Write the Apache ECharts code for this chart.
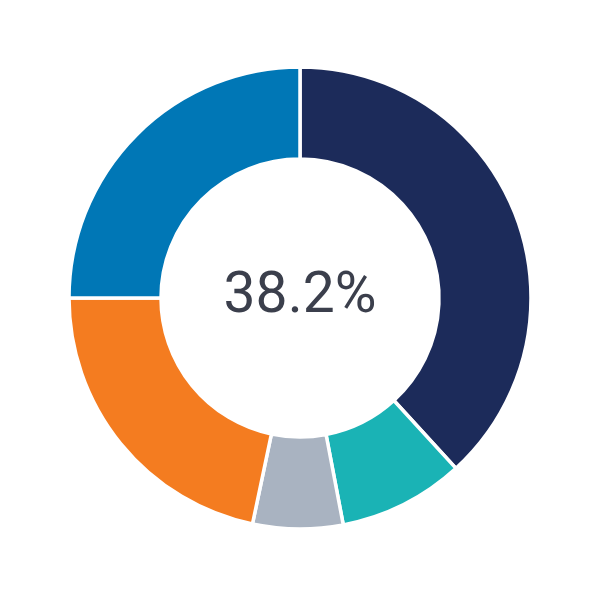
<!DOCTYPE html>
<html>
<head>
    <meta charset="UTF-8">
    <title>Donut</title>
    <script src="https://cdn.jsdelivr.net/npm/echarts/dist/echarts.min.js"></script>
    <style>
        html, body { margin: 0; padding: 0; background: #fff; }
        #chart { width: 600px; height: 600px; }
    </style>
</head>
<body>
    <div id="chart"></div>
    <script type="text/javascript">
        // 数据
        var names = ['A', 'B', 'C', 'D', 'E'];
        var values = [38.2, 8.8, 6.3, 21.7, 25.0];
        var colors = ['#1c2b5a', '#1ab3b5', '#a9b3c1', '#f47c20', '#0077b6'];
        var centerLabel = '38.2%';

        var data = names.map(function (n, i) {
            return { name: n, value: values[i], itemStyle: { color: colors[i] } };
        });

        var myChart = echarts.init(document.getElementById('chart'));
        myChart.setOption({
            animation: false,
            graphic: [{
                type: 'text',
                x: 300,
                y: 298,
                style: {
                    text: centerLabel,
                    font: '57px Roboto',
                    fill: '#3b3f4c',
                    textAlign: 'center',
                    textVerticalAlign: 'middle'
                }
            }],
            series: [{
                type: 'pie',
                center: [300, 298],
                radius: [139, 231],
                startAngle: 90,
                clockwise: true,
                label: { show: false },
                labelLine: { show: false },
                itemStyle: { borderColor: '#fff', borderWidth: 3.5 },
                data: data
            }]
        });
    </script>
</body>
</html>
